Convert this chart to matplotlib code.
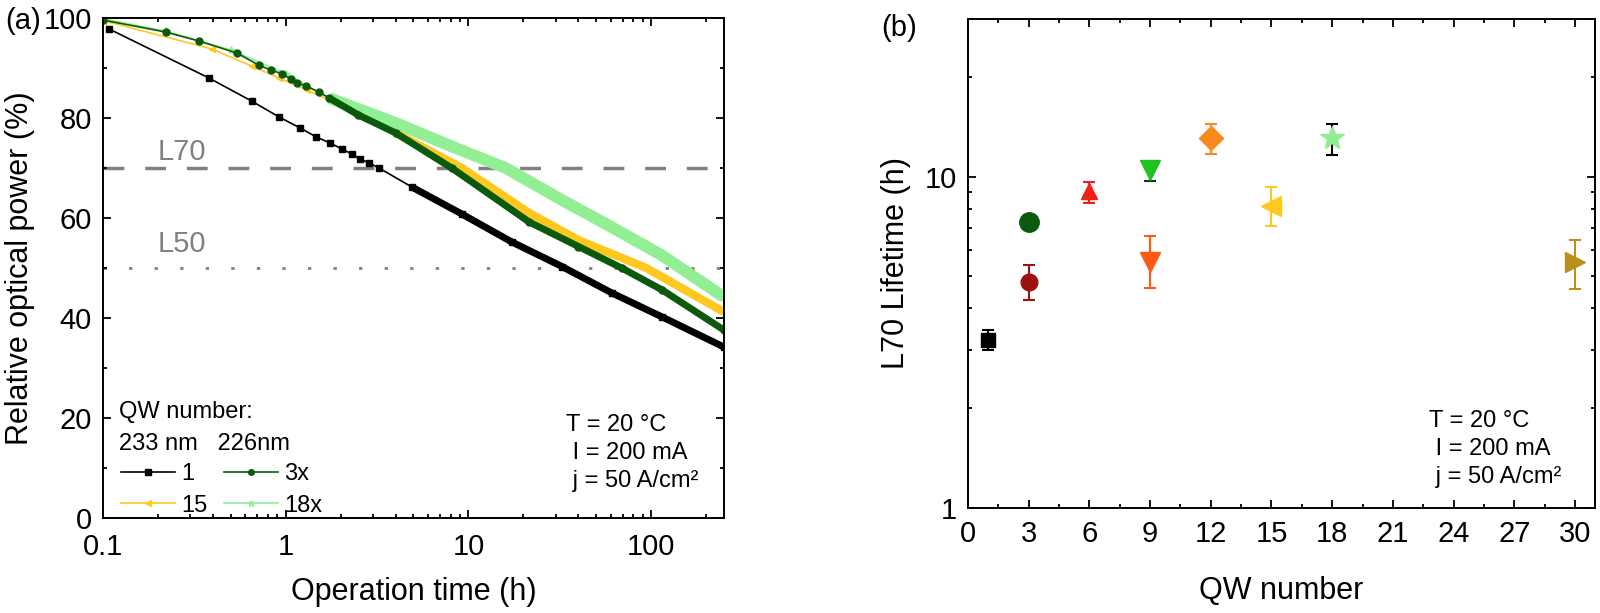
import numpy as np
import matplotlib
import matplotlib.pyplot as plt
from matplotlib.ticker import LogLocator, MultipleLocator, FixedLocator, NullFormatter, FuncFormatter

matplotlib.use('Agg')
plt.rcParams['font.family'] = ['Liberation Sans', 'DejaVu Sans']

# (a) relative optical power vs time
t_1 = [0.108, 0.38, 0.65, 0.92, 1.2, 1.47, 1.75, 2.03, 2.3, 2.56, 2.86, 3.24, 4.9, 9.2, 17.3, 32.5, 61, 115, 250]
p_1 = [97.8, 88.0, 83.4, 80.2, 78.0, 76.2, 75.0, 73.8, 72.8, 71.8, 71.0, 70.0, 66.2, 60.8, 55.2, 50.3, 45.0, 40.2, 34.2]

t_3 = [0.1, 0.22, 0.335, 0.54, 0.71, 0.83, 0.96, 1.07, 1.15, 1.29, 1.52, 1.73, 2.5, 4.0, 8.1, 21.5, 40, 69, 115, 250]
p_3 = [99.6, 97.2, 95.4, 93.0, 90.6, 89.6, 88.8, 87.8, 87.0, 86.4, 85.2, 84.0, 80.6, 77.0, 70.0, 59.2, 54.3, 50.0, 45.6, 37.6]

t_15 = [0.1, 0.395, 0.65, 0.92, 1.3, 1.73, 4.0, 9.2, 21.5, 40, 94, 115, 250]
p_15 = [99.5, 93.8, 90.4, 88.0, 85.6, 83.6, 77.0, 70.0, 61.0, 55.6, 50.0, 48.2, 41.2]

t_18 = [0.1, 0.22, 0.5, 1.0, 1.73, 4.0, 8.0, 16, 32.5, 60, 115, 250]
p_18 = [99.8, 97.4, 93.6, 88.9, 84.0, 79.0, 74.4, 70.0, 63.6, 58.3, 52.5, 44.2]

# (b) L70 lifetime per QW number
qw = [1, 3, 3, 6, 9, 9, 12, 15, 18, 30]
l70 = [3.22, 7.29, 4.82, 9.04, 10.5, 5.53, 13.06, 8.18, 13.06, 5.51]
err_hi = [3.44, 7.29, 5.40, 9.66, 10.9, 6.63, 14.45, 9.29, 14.4, 6.46]
err_lo = [2.99, 7.29, 4.25, 8.32, 9.7, 4.62, 11.7, 7.09, 11.6, 4.57]
mk = ['s', 'o', 'o', '^', 'v', 'v', 'D', '<', '*', '>']
col = ['#000000', '#0b5a0b', '#9e1010', '#f51c1c', '#1fc21f', '#ff5a14', '#f88a1c', '#ffc81e', '#90ee90', '#b8901a']
ecol = ['#000000', '#0b5a0b', '#9e1010', '#f51c1c', '#123812', '#ff5a14', '#f88a1c', '#ffc81e', '#000000', '#b8901a']
msz = [10, 14, 12, 12, 15, 15, 12, 15, 18, 15]

fig = plt.figure(figsize=(16, 6.13), dpi=100)
ax = fig.add_axes([0.0644, 0.155, 0.388, 0.8156])
bx = fig.add_axes([0.605, 0.172, 0.392, 0.797])

series = [
    (t_18, p_18, '#93ef93', '*', 6, 1.5, 8.5, '18x'),
    (t_15, p_15, '#ffc81e', '<', 5, 1.8, 6, '15'),
    (t_3, p_3, '#0b5a0b', 'o', 5, 1.6, 5, '3x'),
    (t_1, p_1, '#000000', 's', 5, 3.5, 5, '1'),
]
handles = {}
for t, p, c, m, ms, tband, lwb, lab in series:
    t = np.array(t)
    p = np.array(p)
    h, = ax.plot(t, p, color=c, lw=1.2, marker=m, ms=ms, label=lab)
    ax.plot(t[t >= tband], p[t >= tband], color=c, lw=lwb, solid_capstyle='butt')
    handles[lab] = h

ax.axhline(70, color='#808080', lw=2.5, ls=(0, (6, 6)), zorder=0)
ax.axhline(50, color='#808080', lw=2.0, ls=(0, (1.2, 8)), zorder=0)
ax.text(0.2, 71.6, 'L70', color='#808080', fontsize=21)
ax.text(0.2, 53.2, 'L50', color='#808080', fontsize=21)

ax.set_xscale('log')
ax.set_xlim(0.1, 250)
ax.set_ylim(0, 100)
ax.xaxis.set_major_locator(FixedLocator([0.1, 1, 10, 100]))
ax.xaxis.set_major_formatter(FuncFormatter(lambda v, p: '%g' % v))
ax.xaxis.set_minor_locator(LogLocator(base=10, subs=np.arange(2, 10)))
ax.xaxis.set_minor_formatter(NullFormatter())
ax.yaxis.set_major_locator(MultipleLocator(20))
ax.yaxis.set_minor_locator(MultipleLocator(10))
ax.set_xlabel('Operation time (h)', fontsize=22, labelpad=11)
ax.set_ylabel('Relative optical power (%)', fontsize=22, labelpad=6)

ax.text(0.025, 0.19, 'QW number:', transform=ax.transAxes, fontsize=17, va='bottom')
ax.text(0.025, 0.125, '233 nm   226nm', transform=ax.transAxes, fontsize=17, va='bottom')
ax.legend([handles['1'], handles['15'], handles['3x'], handles['18x']], ['1', '15', '3x', '18x'],
          ncol=2, loc='lower left', bbox_to_anchor=(-0.005, -0.04), frameon=False, fontsize=17,
          handlelength=2.3, handletextpad=0.25, columnspacing=0.7, labelspacing=0.4, markerscale=0.8)

cond = 'T = 20 °C\n I = 200 mA\n j = 50 A/cm²'
ax.text(0.745, 0.052, cond, transform=ax.transAxes, fontsize=17, va='bottom', ha='left', linespacing=1.35)

for i in range(len(qw)):
    yerr = [[l70[i] - err_lo[i]], [err_hi[i] - l70[i]]]
    bx.errorbar(qw[i], l70[i], yerr=yerr, fmt=mk[i], color=col[i], ecolor=ecol[i], ms=msz[i],
                mec=col[i], elinewidth=1.5, capsize=4, capthick=1.5)

bx.set_yscale('log')
bx.set_ylim(1, 30)
bx.set_xlim(0, 31)
bx.xaxis.set_major_locator(MultipleLocator(3))
bx.xaxis.set_minor_locator(MultipleLocator(1.5))
bx.yaxis.set_major_locator(FixedLocator([1, 10]))
bx.yaxis.set_major_formatter(FuncFormatter(lambda v, p: '%g' % v))
bx.yaxis.set_minor_locator(LogLocator(base=10, subs=np.arange(2, 10)))
bx.yaxis.set_minor_formatter(NullFormatter())
bx.set_xlabel('QW number', fontsize=22, labelpad=20)
bx.set_ylabel('L70 Lifetime (h)', fontsize=22, labelpad=10)
bx.text(0.735, 0.04, cond, transform=bx.transAxes, fontsize=17, va='bottom', ha='left', linespacing=1.35)

for a in (ax, bx):
    a.tick_params(which='both', direction='in', top=True, right=True, labelsize=21, width=1.3)
    a.tick_params(which='major', length=6)
    a.tick_params(which='minor', length=3)
    a.tick_params(axis='y', which='major', pad=8)
    for s in a.spines.values():
        s.set_linewidth(1.4)
ax.tick_params(axis='x', which='major', pad=11)
bx.tick_params(axis='x', which='major', pad=9)

fig.text(0.003, 0.965, '(a)', fontsize=21, va='center')
fig.text(0.551, 0.955, '(b)', fontsize=21, va='center')

fig.savefig('out.png', dpi=100)
